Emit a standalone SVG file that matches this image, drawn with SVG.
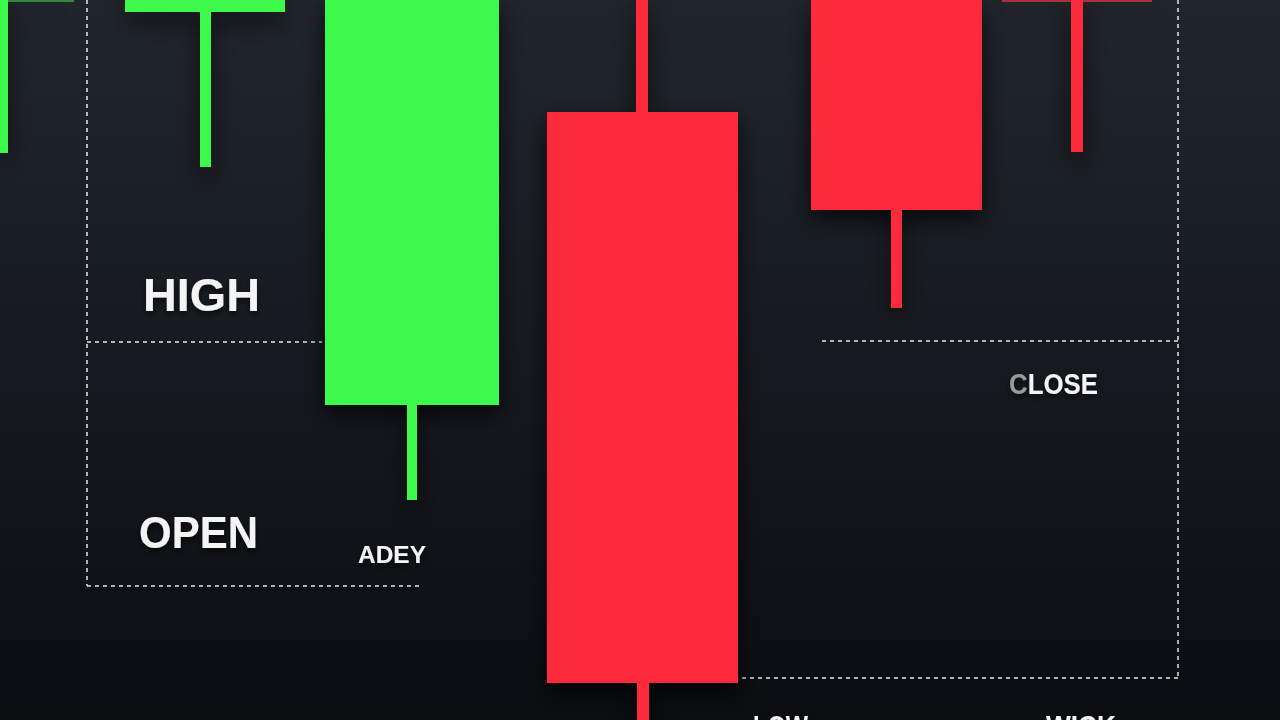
<svg xmlns="http://www.w3.org/2000/svg" width="1280" height="720" viewBox="0 0 1280 720">
  <defs>
    <linearGradient id="bg" x1="0" y1="0" x2="0" y2="1">
      <stop offset="0" stop-color="#21252c"/>
      <stop offset="0.5" stop-color="#161a20"/>
      <stop offset="1" stop-color="#0b0d11"/>
    </linearGradient>
    <filter id="shadow" x="-30%" y="-30%" width="160%" height="160%">
      <feDropShadow dx="0" dy="10" stdDeviation="12" flood-color="#000" flood-opacity="0.75"/>
    </filter>
    <filter id="tshadow" x="-20%" y="-20%" width="140%" height="140%">
      <feDropShadow dx="0" dy="3" stdDeviation="3" flood-color="#000" flood-opacity="0.7"/>
    </filter>
  </defs>
  <style>
    .green { fill: #3cf948; }
    .red { fill: #fd2a3a; }
    .guide { fill: none; stroke: #e8e8e8; stroke-width: 1.5; stroke-dasharray: 4 4; }
    .label { fill: #f4f4f4; font-family: "Liberation Sans", Arial, sans-serif; font-weight: bold; }
  </style>
  <rect width="1280" height="720" fill="url(#bg)"/>

  <g id="guides">
    <line class="guide" x1="87" y1="0" x2="87" y2="586"/>
    <line class="guide" x1="87" y1="342" x2="322" y2="342"/>
    <line class="guide" x1="87" y1="586" x2="423" y2="586"/>
    <line class="guide" x1="1178" y1="0" x2="1178" y2="678"/>
    <line class="guide" x1="822" y1="341" x2="1178" y2="341"/>
    <line class="guide" x1="742" y1="678" x2="1178" y2="678"/>
  </g>

  <g id="candle-green-1" filter="url(#shadow)">
    <rect class="green" x="0" y="0" width="8" height="153"/>
    <rect x="8" y="0" width="66" height="2" fill="#2b8a36"/>
  </g>
  <g id="candle-green-2" filter="url(#shadow)">
    <rect class="green" x="125" y="0" width="160" height="12"/>
    <rect class="green" x="200" y="12" width="11" height="155"/>
  </g>
  <g id="candle-green-3" filter="url(#shadow)">
    <rect class="green" x="325" y="0" width="174" height="405"/>
    <rect class="green" x="407" y="405" width="10" height="95"/>
  </g>
  <g id="candle-red-1" filter="url(#shadow)">
    <rect class="red" x="636" y="0" width="12" height="112"/>
    <rect class="red" x="547" y="112" width="191" height="571"/>
    <rect class="red" x="637" y="683" width="12" height="37"/>
  </g>
  <g id="candle-red-2" filter="url(#shadow)">
    <rect class="red" x="811" y="0" width="171" height="210"/>
    <rect class="red" x="891" y="210" width="11" height="98"/>
  </g>
  <g id="candle-red-3" filter="url(#shadow)">
    <rect x="1002" y="0" width="150" height="2" fill="#a8323b"/>
    <rect class="red" x="1071" y="0" width="12" height="152"/>
  </g>

  <g id="labels" filter="url(#tshadow)">
    <text class="label" x="143" y="311" font-size="47" textLength="117" lengthAdjust="spacingAndGlyphs">HIGH</text>
    <text class="label" x="139" y="548" font-size="45" textLength="119" lengthAdjust="spacingAndGlyphs">OPEN</text>
    <text class="label" x="358" y="563" font-size="23" textLength="68" lengthAdjust="spacingAndGlyphs">ADEY</text>
    <text class="label" x="1009" y="394" font-size="29" textLength="89" lengthAdjust="spacingAndGlyphs"><tspan fill="#9a9a9a">C</tspan>LOSE</text>
    <text class="label" x="753" y="736" font-size="30" textLength="55" lengthAdjust="spacingAndGlyphs">LOW</text>
    <text class="label" x="1046" y="736" font-size="30" textLength="70" lengthAdjust="spacingAndGlyphs">WICK</text>
  </g>
</svg>
